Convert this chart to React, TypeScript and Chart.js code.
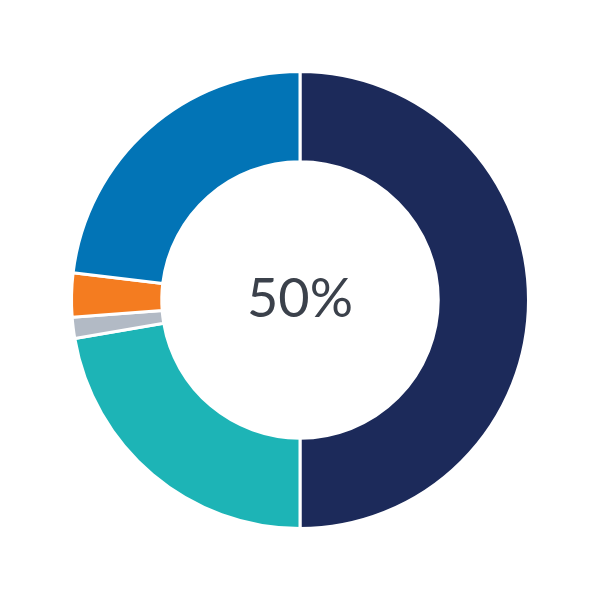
import React, { useEffect, useRef } from "react";
import { Chart, registerables } from "chart.js";

Chart.register(...registerables);

const labels = ["Navy", "Teal", "Gray", "Orange", "Blue"];
const values = [50, 22.3, 1.5, 3.1, 23.1];
const colors = ["#1c2a5a", "#1db4b6", "#b2bac5", "#f47c20", "#0274b6"];
const centerLabel = "50%";

export default function App() {
  const ref = useRef<HTMLCanvasElement | null>(null);
  useEffect(() => {
    if (!ref.current) return;
    const chart = new Chart(ref.current, {
      type: "doughnut",
      data: {
        labels,
        datasets: [
          {
            data: values,
            backgroundColor: colors,
            borderColor: "#ffffff",
            borderWidth: 3,
            hoverOffset: 0,
          },
        ],
      },
      options: {
        animation: false,
        responsive: false,
        maintainAspectRatio: false,
        cutout: "60.5%",
        layout: { padding: 62 },
        plugins: { legend: { display: false }, tooltip: { enabled: false } },
      },
    });
    return () => chart.destroy();
  }, []);
  return (
    <div style={{ position: "relative", width: 584, height: 584 }}>
      <canvas ref={ref} width={584} height={584} style={{ display: "block" }} />
      <div
        style={{
          position: "absolute",
          left: 0,
          top: 0,
          width: 584,
          height: 584,
          display: "flex",
          alignItems: "center",
          justifyContent: "center",
          fontFamily: "Lato, sans-serif",
          fontSize: 54,
          color: "#3b414b",
          pointerEvents: "none",
        }}
      >
        <span style={{ transform: "translateY(-4px)" }}>{centerLabel}</span>
      </div>
    </div>
  );
}
